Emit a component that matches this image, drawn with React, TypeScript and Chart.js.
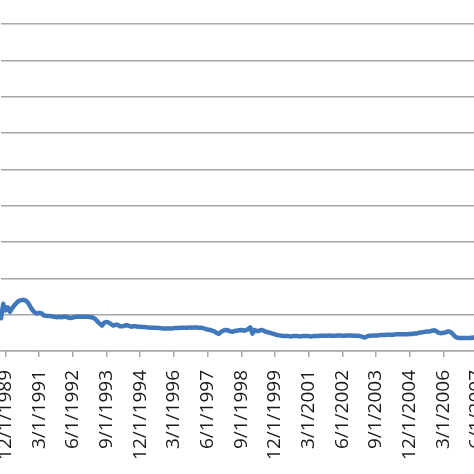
import React, { useEffect, useRef } from "react";
import { Chart, registerables } from "chart.js";

Chart.register(...registerables);

// Monthly series, first month Oct 1989
const START_YEAR = 1989;
const START_MONTH = 10;

const VALUES: number[] = [
  0.9, 1.3, 1.12, 1.2, 1.08, 1.18, 1.26, 1.33, 1.38, 1.4,
  1.41, 1.39, 1.33, 1.23, 1.13, 1.06, 1.03, 1.05, 1.04, 0.98,
  0.97, 0.96, 0.96, 0.95, 0.94, 0.93, 0.94, 0.93, 0.94, 0.94,
  0.92, 0.91, 0.92, 0.94, 0.94, 0.94, 0.94, 0.94, 0.94, 0.94,
  0.93, 0.92, 0.88, 0.81, 0.75, 0.7, 0.78, 0.8, 0.78, 0.74,
  0.7, 0.72, 0.72, 0.68, 0.68, 0.7, 0.71, 0.69, 0.67, 0.68,
  0.68, 0.67, 0.67, 0.66, 0.66, 0.65, 0.65, 0.64, 0.64, 0.64,
  0.63, 0.63, 0.62, 0.62, 0.62, 0.62, 0.62, 0.63, 0.63, 0.63,
  0.64, 0.64, 0.64, 0.64, 0.65, 0.64, 0.65, 0.65, 0.64, 0.64,
  0.63, 0.61, 0.59, 0.58, 0.56, 0.54, 0.5, 0.47, 0.53, 0.56,
  0.58, 0.57, 0.54, 0.53, 0.55, 0.56, 0.57, 0.58, 0.56, 0.57,
  0.6, 0.65, 0.48, 0.58, 0.55, 0.56, 0.58, 0.56, 0.53, 0.51,
  0.5, 0.48, 0.46, 0.44, 0.43, 0.42, 0.41, 0.41, 0.41, 0.4,
  0.41, 0.41, 0.41, 0.4, 0.41, 0.41, 0.41, 0.41, 0.4, 0.41,
  0.41, 0.41, 0.42, 0.42, 0.42, 0.42, 0.43, 0.42, 0.42, 0.42,
  0.43, 0.43, 0.42, 0.42, 0.43, 0.43, 0.43, 0.42, 0.42, 0.42,
  0.41, 0.39, 0.37, 0.4, 0.42, 0.42, 0.43, 0.43, 0.43, 0.44,
  0.44, 0.44, 0.45, 0.45, 0.45, 0.45, 0.46, 0.46, 0.46, 0.46,
  0.46, 0.46, 0.47, 0.47, 0.48, 0.48, 0.5, 0.51, 0.52, 0.53,
  0.54, 0.54, 0.56, 0.57, 0.54, 0.5, 0.49, 0.5, 0.51, 0.54,
  0.53, 0.48, 0.41, 0.37, 0.36, 0.36, 0.36, 0.36, 0.36, 0.36,
  0.37, 0.36, 0.36, 0.36, 0.36, 0.36, 0.36, 0.36, 0.36,
];

const TICK_LABELS: string[] = [
  "12/1/1989", "3/1/1991", "6/1/1992", "9/1/1993", "12/1/1994",
  "3/1/1996", "6/1/1997", "9/1/1998", "12/1/1999", "3/1/2001",
  "6/1/2002", "9/1/2003", "12/1/2004", "3/1/2006", "6/1/2007",
];

const Y_MIN = 0;
const Y_MAX = 10;
const Y_STEP = 1;

const CATEGORIES: string[] = VALUES.map((_, i) => {
  const k = START_MONTH - 1 + i;
  const m = (k % 12) + 1;
  const y = START_YEAR + Math.floor(k / 12);
  return `${m}/1/${y}`;
});

const GRID = "#a8a8a8";

export default function App() {
  const ref = useRef<HTMLCanvasElement | null>(null);
  useEffect(() => {
    if (!ref.current) return;
    const tickSet = new Set(TICK_LABELS);
    const chart = new Chart(ref.current, {
      type: "line",
      data: {
        labels: CATEGORIES,
        datasets: [
          {
            data: VALUES,
            borderColor: "#4177BB",
            borderWidth: 4.5,
            pointRadius: 0,
            tension: 0,
            borderJoinStyle: "round",
            borderCapStyle: "round",
            fill: false,
          },
        ],
      },
      options: {
        responsive: false,
        animation: false,
        layout: { padding: { left: 0, right: 60.5, top: 27.7, bottom: 0 } },
        plugins: { legend: { display: false }, tooltip: { enabled: false } },
        scales: {
          x: {
            type: "category",
            offset: false,
            afterFit: (scale: any) => {
              scale.height = 110;
            },
            grid: {
              drawOnChartArea: false,
              drawTicks: true,
              tickLength: 6,
              lineWidth: 1.5,
              color: (ctx: any) =>
                tickSet.has(CATEGORIES[ctx.index]) ? GRID : "rgba(0,0,0,0)",
            },
            border: { display: true, color: GRID, width: 1.5 },
            ticks: {
              autoSkip: false,
              minRotation: 90,
              maxRotation: 90,
              padding: 13,
              color: "#1a1a1a",
              font: { family: "'Open Sans'", size: 19 },
              callback: (_v: any, i: number) =>
                tickSet.has(CATEGORIES[i]) ? CATEGORIES[i] : "",
            },
          },
          y: {
            min: Y_MIN,
            max: Y_MAX,
            ticks: { display: false, stepSize: Y_STEP },
            grid: { color: GRID, lineWidth: 1.5, drawTicks: false },
            border: { display: false },
          },
        },
      },
    });
    return () => chart.destroy();
  }, []);
  return (
    <canvas
      ref={ref}
      width={563}
      height={501}
      style={{ position: "absolute", left: -12.5, top: -40, width: 563, height: 501 }}
    />
  );
}
